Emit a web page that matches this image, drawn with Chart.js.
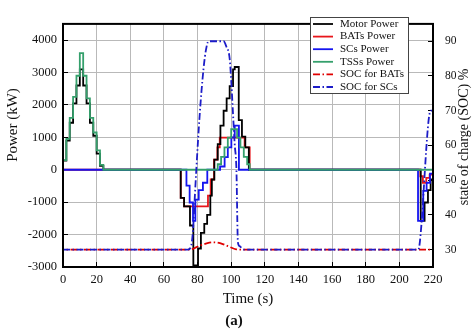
<!DOCTYPE html>
<html>
<head>
<meta charset="utf-8">
<script src="https://cdn.jsdelivr.net/npm/chart.js"></script>
<style>
html, body { margin: 0; padding: 0; background: #fff; }
#wrap { width: 474px; height: 330px; }
</style>
</head>
<body>
<div id="wrap"><canvas id="myChart" width="474" height="330"></canvas></div>
<script>
'use strict';

// power breakpoints (s, kW): each value holds until the next time
var motorT = [0, 2, 4, 6, 8, 10, 12, 14, 16, 18, 20, 22, 24, 70, 72, 75.5, 77.5, 80.3, 82, 84, 85.7, 87.6, 88.5, 90, 92, 93.6, 95.5, 97.3, 99.1, 101.1, 102.1, 104.5, 106.4, 108.4, 110.5, 212.7, 215, 217, 218.6]
var motorP = [280, 900, 1450, 2050, 2600, 3100, 2600, 2050, 1450, 1050, 500, 120, 0, -870, -1130, -1720, -2950, -2430, -1950, -1670, -1390, -800, -300, 310, 790, 1360, 1820, 2200, 2580, 3100, 3170, 1530, 1020, 690, 0, -1580, -1010, -630, -300]

var batT = [0, 70, 72, 86.2, 87.8, 89.8, 91.8, 93.2, 108, 111, 212.5, 214, 216, 218]
var batP = [0, -870, -1130, -800, -300, 310, 690, 990, 690, 0, -200, -400, -250, -150]

var scT = [0, 73.4, 75.3, 77.3, 78.7, 80.7, 83.2, 85.8, 93.4, 96.1, 98, 100.1, 102.1, 104.6, 211.1, 214.2, 216.2, 218.2]
var scP = [0, -490, -1010, -1580, -920, -630, -400, 0, 100, 390, 690, 1000, 1360, 0, -1580, -650, -400, -120]

var tssT = [0, 2, 4, 6, 8, 10, 12, 14, 16, 18, 20, 22, 24, 92, 94, 96, 98, 100, 103.5, 105.5, 107.5, 109.5, 111]
var tssP = [300, 950, 1600, 2250, 2900, 3600, 2900, 2200, 1600, 1150, 600, 150, 0, 170, 400, 690, 990, 1250, 990, 690, 400, 170, 0]

// state of charge samples (s, %)
var socBatT = [0, 76, 78, 81, 84, 87, 89.5, 92, 95, 98, 101, 103, 105, 220]
var socBatV = [30, 30, 30.4, 31.1, 31.6, 32, 32.1, 32, 31.6, 31, 30.4, 30.1, 30, 30]

var socScT = [0, 74.3, 76.3, 77.3, 78.3, 79.3, 81.3, 83.6, 85, 86.5, 95.5, 97.1, 99.1, 100.1, 101.1, 102.1, 103.1, 104, 105, 106.5, 108, 211, 211.8, 218.6, 220]
var socScV = [30, 30, 31.3, 35.6, 44.5, 53.3, 69, 82.3, 87.5, 90, 90, 88.5, 85, 78, 69, 60.3, 53.3, 32.1, 31, 30.3, 30, 30, 30.8, 70, 70]

// axis ticks
var timeTicks = [0, 20, 40, 60, 80, 100, 120, 140, 160, 180, 200, 220]
var powerTicks = [-3000, -2000, -1000, 0, 1000, 2000, 3000, 4000]
var socTicks = [30, 40, 50, 60, 70, 80, 90]

var tEnd = 220
var serif = '"Liberation Serif", "Times New Roman", serif'
var gridGray = '#b9b9b9'
var dashDot = [7, 2.5, 1.5, 2.5]

function steps(ts, vs) {
	var pts = []
	for (var i = 0; i < ts.length; i++) {
		if (i > 0) pts.push({x: ts[i], y: vs[i-1]})
		pts.push({x: ts[i], y: vs[i]})
	}
	pts.push({x: tEnd, y: vs[vs.length-1]})
	return pts
}

const curve = (ts, vs) => ts.map((t, i) => ({x: t, y: vs[i]}))

function powerSet(label, color, pts, order) {
	return {label: label, data: pts, borderColor: color, borderWidth: 1.8, pointRadius: 0, fill: false, yAxisID: 'y', order: order}
}

function socSet(label, color, pts, order, dashOffset) {
	return {label: label, data: pts, borderColor: color, borderWidth: 1.8, borderDash: dashDot, borderDashOffset: dashOffset,
		pointRadius: 0, fill: false, cubicInterpolationMode: 'monotone', yAxisID: 'y1', order: order}
}

const useTicks = (list) => (s) => { s.ticks = list.map((v) => ({value: v})) }

// frame, rotated axis titles, legend box and panel tag
var extras = {
	id: 'extras',
	afterDraw(chart) {
		var ctx = chart.ctx, a = chart.chartArea
		ctx.save()
		ctx.strokeStyle = '#000'
		ctx.lineWidth = 2
		ctx.strokeRect(a.left, a.top, a.right - a.left, a.bottom - a.top)

		ctx.fillStyle = '#111'
		ctx.textAlign = 'center'
		ctx.textBaseline = 'middle'
		ctx.font = '15px ' + serif
		ctx.save(); ctx.translate(13, 125); ctx.rotate(-Math.PI/2); ctx.fillText('Power (kW)', 0, 0); ctx.restore()
		ctx.font = '14px ' + serif
		ctx.save(); ctx.translate(464, 137); ctx.rotate(-Math.PI/2); ctx.fillText('state of charge (SOC) %', 0, 0); ctx.restore()
		ctx.font = 'bold 15px ' + serif
		ctx.fillText('(a)', 234, 321)

		ctx.fillStyle = '#fff'
		ctx.fillRect(310.5, 17.5, 98, 76)
		ctx.strokeStyle = '#444'
		ctx.lineWidth = 1
		ctx.strokeRect(310.5, 17.5, 98, 76)
		ctx.textAlign = 'left'
		ctx.font = '11px ' + serif
		chart.data.datasets.forEach((ds, i) => {
			var y = 24 + i * 12.6
			ctx.strokeStyle = ds.borderColor
			ctx.lineWidth = ds.borderWidth
			ctx.setLineDash(ds.borderDash || [])
			ctx.beginPath(); ctx.moveTo(313, y); ctx.lineTo(333, y); ctx.stroke()
			ctx.setLineDash([])
			ctx.fillStyle = '#111'
			ctx.fillText(ds.label, 340, y)
		})
		ctx.restore()
	}
}

var chart = new Chart(document.getElementById('myChart').getContext('2d'), {
	type: 'line',
	data: {
		datasets: [
			powerSet('Motor Power', '#000000', steps(motorT, motorP), 3),
			powerSet('BATs Power', '#e8161b', steps(batT, batP), 4),
			powerSet('SCs Power', '#1414f0', steps(scT, scP), 2),
			powerSet('TSSs Power', '#35a06c', steps(tssT, tssP), 1),
			socSet('SOC for BATs', '#e00000', curve(socBatT, socBatV), 0.5, 6),
			socSet('SOC for SCs', '#1c1cc8', curve(socScT, socScV), 0, 0)
		]
	},
	options: {
		responsive: false,
		animation: false,
		devicePixelRatio: 1,
		layout: {padding: {top: 2, bottom: 22, left: 0, right: 0}},
		plugins: {legend: {display: false}, tooltip: {enabled: false}},
		scales: {
			x: {
				type: 'linear', min: 0, max: 220,
				afterBuildTicks: useTicks(timeTicks),
				ticks: {autoSkip: false, padding: 10, color: '#111', font: {family: serif, size: 12.5}, callback: (v) => String(v)},
				grid: {color: gridGray, tickColor: '#000', drawTicks: true, tickLength: -5},
				border: {color: '#000', width: 2},
				title: {display: true, text: 'Time (s)', color: '#111', font: {family: serif, size: 15}, padding: 0},
				afterFit: (s) => { s.height = 41 }
			},
			y: {
				position: 'left', min: -3000, max: 4500,
				afterBuildTicks: useTicks(powerTicks),
				ticks: {autoSkip: false, padding: 11, color: '#111', font: {family: serif, size: 12.5}, callback: (v) => String(v)},
				grid: {color: gridGray, tickColor: '#000', drawTicks: true, tickLength: -5},
				border: {color: '#000', width: 2},
				afterFit: (s) => { s.width = 63 }
			},
			y1: {
				position: 'right', min: 25, max: 95,
				afterBuildTicks: useTicks(socTicks),
				ticks: {autoSkip: false, padding: 17, color: '#111', font: {family: serif, size: 11.5}, callback: (v) => String(v)},
				grid: {drawOnChartArea: false, color: '#000', tickColor: '#000', drawTicks: true, tickLength: -5},
				border: {color: '#000', width: 2},
				afterFit: (s) => { s.width = 41 }
			}
		}
	},
	plugins: [extras]
})
</script>
</body>
</html>
